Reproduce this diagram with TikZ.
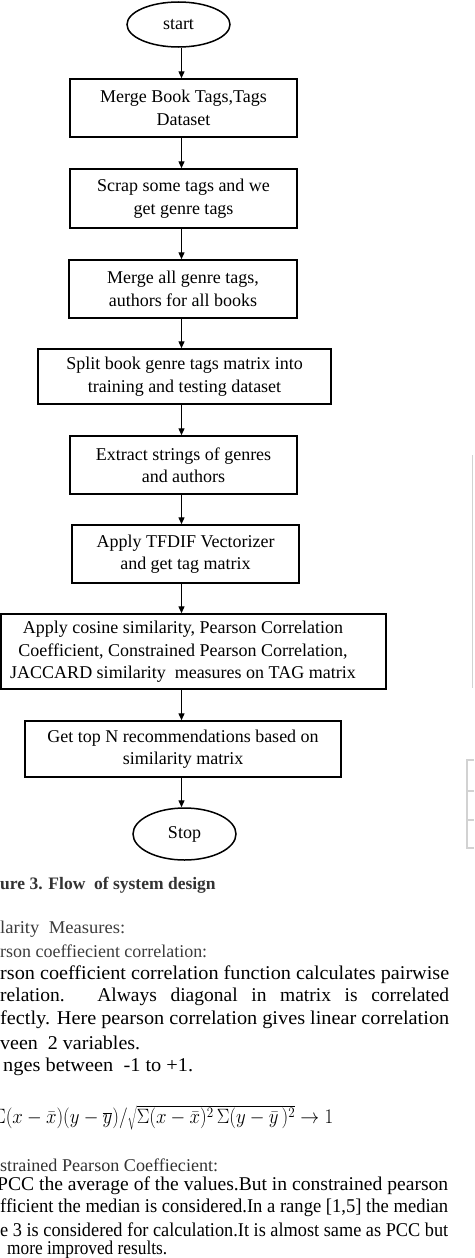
\documentclass[tikz,border=0pt]{standalone}
\usepackage{fontspec}
\usepackage{graphicx}
\setmainfont{Liberation Serif}
\usetikzlibrary{arrows.meta,shapes.geometric}
\newcommand\flowfont{\fontsize{18}{22.5}\selectfont}
\newcommand\bodyfont{\fontsize{19.5}{23}\selectfont}
\newcommand\headfont{\fontsize{18}{21}\selectfont}
\newcommand\capfont{\fontsize{17.5}{21}\selectfont\bfseries}
\newcommand\fitw[2]{\resizebox{#1}{\height}{#2}}
\definecolor{capgray}{HTML}{333333}
\definecolor{headgray}{HTML}{3C3C3C}
\definecolor{edgegray}{HTML}{D2D2D2}
\begin{document}
\begin{tikzpicture}[x=1pt,y=-1pt,
  stepbox/.style={draw, line width=1.5pt, inner sep=0pt, align=center, font=\flowfont},
  term/.style={ellipse, draw, line width=1.5pt, inner sep=0pt, font=\flowfont},
  arr/.style={line width=1.3pt, -{Triangle[length=7pt,width=6pt]}},
  bodyline/.style={anchor=west, inner sep=0pt, font=\bodyfont},
  headline/.style={anchor=west, inner sep=0pt, font=\headfont, text=headgray},
  edge/.style={draw=edgegray, line width=1.2pt}]
\useasboundingbox (0,0) rectangle (474,1258);
\clip (0,0) rectangle (474,1258);

% flowchart
\node[term, minimum width=103pt, minimum height=45pt] (start) at (178.5,24.5) {start};
\node[stepbox, minimum width=227pt, minimum height=58pt] (b1) at (183.5,108) {Merge Book Tags,Tags\\Dataset};
\node[stepbox, minimum width=227pt, minimum height=59pt] (b2) at (183.5,198.5) {Scrap some tags and we\\get genre tags};
\node[stepbox, minimum width=228pt, minimum height=58pt] (b3) at (183,289) {Merge all genre tags,\\authors for all books};
\node[stepbox, minimum width=293pt, minimum height=55pt] (b4) at (184.5,376.5) {Split book genre tags matrix into\\training and testing dataset};
\node[stepbox, minimum width=227pt, minimum height=58pt] (b5) at (183.5,465) {Extract strings of genres\\and authors};
\node[stepbox, minimum width=227pt, minimum height=58pt] (b6) at (185.5,554) {Apply TFDIF Vectorizer\\and get tag matrix};
\node[stepbox, minimum width=385pt, minimum height=75pt] (b7) at (193.5,651.5) {};
\node[inner sep=0pt, align=center, font=\flowfont] (t7) at (183,652) {Apply cosine similarity, Pearson Correlation\\Coefficient, Constrained Pearson Correlation,\\JACCARD similarity \ measures on TAG matrix};
\node[stepbox, minimum width=316pt, minimum height=56pt] (b8) at (183,749) {Get top N recommendations based on\\similarity matrix};
\node[term, minimum width=103pt, minimum height=52pt] (stop) at (184.5,834) {Stop};

\coordinate (ax) at (181.5,0);
\draw[arr] (ax |- start.south) -- (ax |- b1.north);
\draw[arr] (ax |- b1.south) -- (ax |- b2.north);
\draw[arr] (ax |- b2.south) -- (ax |- b3.north);
\draw[arr] (ax |- b3.south) -- (ax |- b4.north);
\draw[arr] (ax |- b4.south) -- (ax |- b5.north);
\draw[arr] (ax |- b5.south) -- (ax |- b6.north);
\draw[arr] (ax |- b6.south) -- (ax |- b7.north);
\draw[arr] (ax |- b7.south) -- (ax |- b8.north);
\draw[arr] (ax |- b8.south) -- (ax |- stop.north);

% caption and text
\node[anchor=west, inner sep=0pt, font=\capfont, text=capgray] (cap) at (0,885) {ure 3. Flow \ of system design};
\node[headline] (h1) at (0,929) {\fitw{125pt}{larity \ Measures:}};
\node[headline] (h2) at (0,951) {\fitw{207pt}{rson coeffiecient correlation:}};
\node[bodyline] (p1) at (0,975) {\fitw{449pt}{rson coefficient correlation function calculates pairwise}};
\node[bodyline] (p2) at (0,997) {\makebox[449pt][s]{relation. Always diagonal in matrix is correlated}};
\node[bodyline] (p3) at (0,1020) {\fitw{449pt}{fectly. Here pearson correlation gives linear correlation}};
\node[bodyline] (p4) at (0,1043) {\fitw{140pt}{veen \ 2 variables.}};
\node[bodyline] (p5) at (3,1067) {\fitw{190pt}{nges between \ -1 to +1.}};
\node[bodyline] (f1) at (-7,1118) {\fitw{340pt}{$\Sigma(x-\bar{x})(y-\overline{y})/\sqrt{\Sigma(x-\bar{x})^2\,\Sigma(y-\bar{y}\,)^2}\rightarrow 1$}};
\node[anchor=west, inner sep=0pt, font=\fontsize{18}{21}\selectfont, text=capgray] (h3) at (0,1165) {\fitw{218pt}{strained Pearson Coeffiecient:}};
\node[bodyline] (q1) at (-3,1186) {\fitw{451pt}{PCC the average of the values.But in constrained pearson}};
\node[bodyline] (q2) at (0,1208) {\fitw{448pt}{fficient the median is considered.In a range [1,5] the median}};
\node[bodyline] (q3) at (0,1230) {\fitw{448pt}{e 3 is considered for calculation.It is almost same as PCC but}};
\node[bodyline] (q4) at (7,1250) {\fitw{160pt}{more improved results.}};

% fragments of the neighbouring column
\draw[edge] (472.5,455) -- (472.5,688);
\draw[edge] (474,760) -- (467,760) -- (467,848) -- (474,848);
\draw[edge] (467,791) -- (474,791);
\draw[edge] (467,820) -- (474,820);
\end{tikzpicture}
\end{document}
